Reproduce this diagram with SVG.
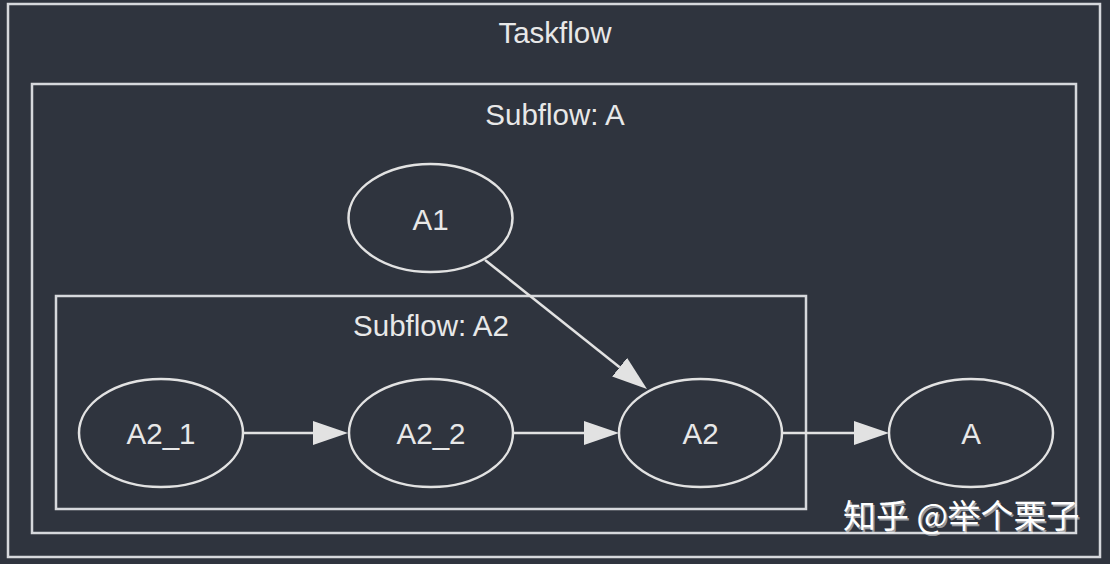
<svg xmlns="http://www.w3.org/2000/svg" width="1110" height="564" viewBox="0 0 1110 564">
  <style>
    .cluster { fill: none; stroke: #d6d8dc; stroke-width: 2.5; }
    .node ellipse { fill: none; stroke: #e2e2e2; stroke-width: 2.5; }
    .lbl { font-family: "Liberation Sans", Arial, sans-serif; font-size: 29.5px; fill: #e8e8e8; text-anchor: middle; }
    .edge { fill: none; stroke: #e2e2e2; stroke-width: 2.5; }
    .wm { font-family: "Noto Sans CJK SC", "Noto Sans", sans-serif; font-size: 33px; font-weight: 400; fill: #ffffff; }
  </style>
  <defs>
    <marker id="arr" markerUnits="userSpaceOnUse" markerWidth="40" markerHeight="30" refX="0" refY="12" orient="auto" viewBox="0 0 40 30">
      <path d="M0,0 L35,12 L0,24 Z" fill="#e2e2e2"/>
    </marker>
  </defs>
  <rect x="0" y="0" width="1110" height="564" fill="#2f343e"/>

  <g id="cluster-taskflow">
    <rect class="cluster" x="8" y="4" width="1092" height="553"/>
    <text class="lbl" x="555" y="43">Taskflow</text>
  </g>
  <g id="cluster-subflow-a">
    <rect class="cluster" x="32" y="84" width="1044" height="449"/>
    <text class="lbl" x="555" y="125">Subflow: A</text>
  </g>
  <g id="cluster-subflow-a2">
    <rect class="cluster" x="56" y="296" width="750" height="213"/>
    <text class="lbl" x="431" y="336">Subflow: A2</text>
  </g>

  <g id="connectors">
    <path class="edge" d="M485,260 L619.6,367.2" marker-end="url(#arr)"/>
    <path class="edge" d="M243,433 L313,433" marker-end="url(#arr)"/>
    <path class="edge" d="M513,433 L584,433" marker-end="url(#arr)"/>
    <path class="edge" d="M782,433 L854,433" marker-end="url(#arr)"/>
  </g>

  <g id="node-A1" class="node">
    <ellipse cx="430.5" cy="218" rx="82" ry="54"/>
    <text class="lbl" x="430.5" y="230">A1</text>
  </g>
  <g id="node-A2_1" class="node">
    <ellipse cx="161" cy="433" rx="82" ry="54"/>
    <text class="lbl" x="161" y="444">A2_1</text>
  </g>
  <g id="node-A2_2" class="node">
    <ellipse cx="431" cy="433" rx="82" ry="54"/>
    <text class="lbl" x="431" y="444">A2_2</text>
  </g>
  <g id="node-A2" class="node">
    <ellipse cx="700.5" cy="433" rx="81.5" ry="54"/>
    <text class="lbl" x="700.5" y="444">A2</text>
  </g>
  <g id="node-A" class="node">
    <ellipse cx="971" cy="433" rx="82" ry="54"/>
    <text class="lbl" x="971" y="444">A</text>
  </g>

  <text class="wm" x="843" y="528" fill="#000000" opacity="0.5" transform="translate(1.5,1.5)">知乎 @举个栗子</text>
  <text class="wm" x="843" y="528">知乎 @举个栗子</text>
</svg>
